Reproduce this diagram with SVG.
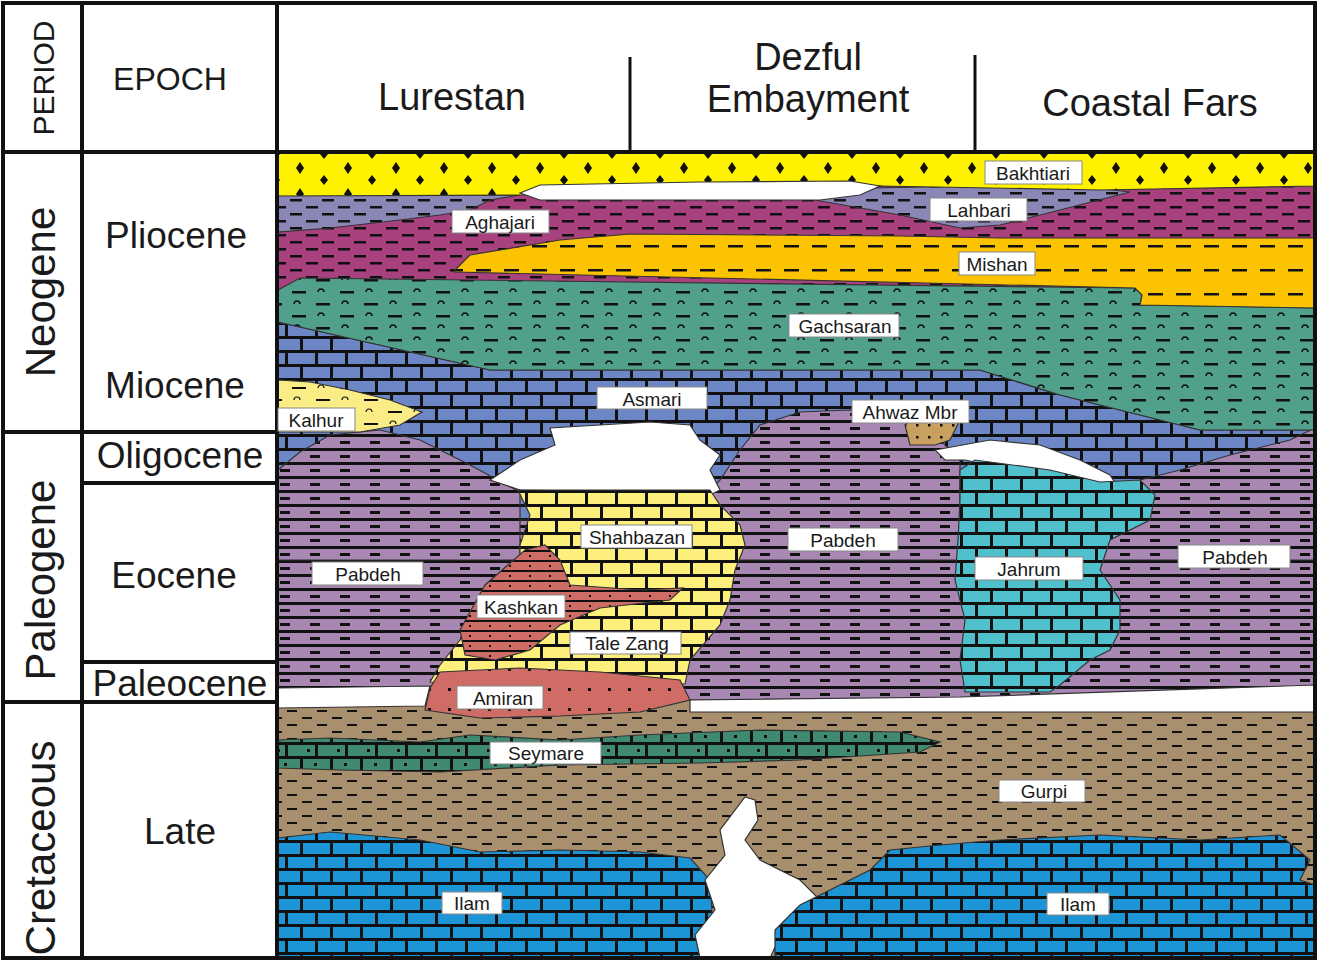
<svg xmlns="http://www.w3.org/2000/svg" width="1318" height="961" viewBox="0 0 1318 961">
<style>
text{font-family:"Liberation Sans",Arial,sans-serif;fill:#1a1a1a}
.lab rect{fill:#fff;stroke:#888;stroke-width:1}
.lab text{font-size:19px;text-anchor:middle}
.hd{font-size:38px;text-anchor:middle}
.ep{font-size:37px;text-anchor:middle}
.edge{stroke:#333;stroke-width:1.2}
</style>
<defs>
<pattern id="bak" width="48" height="26" patternUnits="userSpaceOnUse"><rect width="48" height="26" fill="#fff200"/><path d="M12 6l4 6-4 6-4-6z M36 19l4 5-4 5-4-5z M36 -7l4 5-4 5-4-5z" fill="#111"/></pattern>
<pattern id="lah" width="32" height="14" patternUnits="userSpaceOnUse"><rect width="32" height="14" fill="#8a87b6"/><rect x="2" y="3" width="12" height="2.5" fill="#111"/><rect x="18" y="10" width="12" height="2.5" fill="#111"/></pattern>
<pattern id="agh" width="32" height="14" patternUnits="userSpaceOnUse"><rect width="32" height="14" fill="#a8427e"/><rect x="2" y="3" width="12" height="2.5" fill="#111"/><rect x="18" y="10" width="12" height="2.5" fill="#111"/></pattern>
<pattern id="mis" width="28" height="24" patternUnits="userSpaceOnUse"><rect width="28" height="24" fill="#fcc400"/><rect x="0" y="5" width="15" height="2.5" fill="#111"/></pattern>
<pattern id="gac" width="48" height="24" patternUnits="userSpaceOnUse"><rect width="48" height="24" fill="#50a08c"/><rect x="4" y="3" width="14" height="2.5" fill="#111"/><rect x="28" y="15" width="14" height="2.5" fill="#111"/><path d="M30 4a3 3 0 0 1 6 0 M6 16a3 3 0 0 1 6 0" stroke="#111" stroke-width="1.5" fill="none"/></pattern>
<pattern id="kal" width="48" height="24" patternUnits="userSpaceOnUse"><rect width="48" height="24" fill="#fbed86"/><rect x="4" y="3" width="14" height="2" fill="#111"/><rect x="28" y="15" width="14" height="2" fill="#111"/><path d="M30 4a3 3 0 0 1 6 0 M6 16a3 3 0 0 1 6 0" stroke="#111" stroke-width="1.2" fill="none"/></pattern>
<pattern id="asm" width="30" height="28" patternUnits="userSpaceOnUse"><rect width="30" height="28" fill="#6d86c6"/><rect y="0" width="30" height="3" fill="#111"/><rect y="14" width="30" height="3" fill="#111"/><rect x="0" y="0" width="3" height="14" fill="#111"/><rect x="15" y="14" width="3" height="14" fill="#111"/></pattern>
<pattern id="sha" width="30" height="28" patternUnits="userSpaceOnUse"><rect width="30" height="28" fill="#fcef7c"/><rect y="0" width="30" height="3" fill="#111"/><rect y="14" width="30" height="3" fill="#111"/><rect x="0" y="0" width="3" height="14" fill="#111"/><rect x="15" y="14" width="3" height="14" fill="#111"/></pattern>
<pattern id="jah" width="30" height="28" patternUnits="userSpaceOnUse"><rect width="30" height="28" fill="#4fc0cc"/><rect y="0" width="30" height="3" fill="#111"/><rect y="14" width="30" height="3" fill="#111"/><rect x="0" y="0" width="3" height="14" fill="#111"/><rect x="15" y="14" width="3" height="14" fill="#111"/></pattern>
<pattern id="ila" width="30" height="28" patternUnits="userSpaceOnUse"><rect width="30" height="28" fill="#1d94d6"/><rect y="0" width="30" height="3" fill="#111"/><rect y="14" width="30" height="3" fill="#111"/><rect x="0" y="0" width="3" height="14" fill="#111"/><rect x="15" y="14" width="3" height="14" fill="#111"/></pattern>
<pattern id="sey" width="30" height="28" patternUnits="userSpaceOnUse"><rect width="30" height="28" fill="#3f8a70"/><rect y="0" width="30" height="3" fill="#111"/><rect y="14" width="30" height="3" fill="#111"/><rect x="0" y="0" width="3" height="14" fill="#111"/><rect x="15" y="14" width="3" height="14" fill="#111"/><rect x="14" y="7" width="3" height="3" fill="#111"/><rect x="7" y="21" width="3" height="3" fill="#111"/></pattern>
<pattern id="pab" width="30" height="14" patternUnits="userSpaceOnUse"><rect width="30" height="14" fill="#a888b2"/><rect y="0" width="30" height="3" fill="#111"/><rect x="10" y="7" width="10" height="3" fill="#111"/></pattern>
<pattern id="gur" width="30" height="14" patternUnits="userSpaceOnUse"><rect width="30" height="14" fill="#a88f6e"/><rect x="2" y="3" width="10" height="2" fill="#111"/><rect x="17" y="10" width="10" height="2" fill="#111"/></pattern>
<pattern id="ami" width="20" height="20" patternUnits="userSpaceOnUse"><rect width="20" height="20" fill="#cf6c66"/><rect x="8" y="8" width="3" height="3" fill="#111"/></pattern>
<pattern id="kas" width="20" height="10" patternUnits="userSpaceOnUse"><rect width="20" height="10" fill="#cf6c66"/><rect y="0" width="20" height="2" fill="#111"/><rect x="9" y="5" width="2" height="2" fill="#111"/></pattern>
<pattern id="ahw" width="12" height="12" patternUnits="userSpaceOnUse"><rect width="12" height="12" fill="#c8a060"/><rect x="4" y="4" width="2.5" height="2.5" fill="#111"/></pattern>
</defs>
<rect width="1318" height="961" fill="#fff"/>
<g id="strata" class="edge">
<rect x="278" y="700" width="1037" height="258" fill="url(#gur)"/>
<rect x="278" y="420" width="1037" height="280" fill="url(#pab)"/>
<rect x="278" y="180" width="1037" height="130" fill="url(#agh)"/>
<polygon fill="url(#asm)" points="278,322 490,370 980,370 1060,395 1200,430 1315,430 1315,520 278,520"/>
<polygon fill="url(#pab)" points="278,470 300,452 330,435 380,430 420,440 470,465 520,492 520,560 278,560"/>
<polygon fill="url(#pab)" points="700,500 720,480 740,450 760,425 800,412 850,410 910,420 940,440 960,460 960,560 700,560"/>
<polygon fill="url(#pab)" points="1140,480 1180,470 1230,455 1290,440 1315,428 1315,560 1090,560 1100,500"/>
<polygon fill="#fff" points="490,480 520,460 555,445 550,428 600,425 650,422 690,425 700,440 720,455 710,470 720,490 700,500 620,492 520,490"/>
<polygon fill="#fff" points="935,450 990,440 1040,445 1080,460 1110,475 1120,490 1090,495 1060,500 1040,505 1020,485 990,465 965,460 945,460"/>
<polygon fill="url(#sha)" points="430,682 440,665 460,640 470,620 520,585 520,545 530,515 518,490 710,490 720,505 740,525 745,545 735,570 730,600 720,625 690,660 685,684"/>
<polygon fill="url(#kas)" points="460,630 485,585 525,550 545,545 560,560 570,585 640,590 683,588 670,600 600,608 560,625 530,650 495,660 465,655"/>
<polygon fill="url(#jah)" points="960,470 975,460 1050,470 1100,482 1140,480 1155,495 1150,520 1110,540 1100,570 1120,600 1120,630 1110,650 1090,660 1060,685 1050,692 965,692 960,660 965,620 955,580 958,540 960,500"/>
<polygon fill="#fff" points="278,688 430,686 425,706 278,708"/>
<polygon fill="#fff" points="690,700 960,697 1315,685 1315,712 690,712"/>
<polygon fill="url(#ami)" points="430,688 440,672 520,668 600,672 680,680 690,700 640,712 560,716 480,718 425,710"/>
<polygon fill="url(#sey)" points="278,740 330,738 420,742 470,735 560,740 640,735 760,730 900,732 940,742 920,752 800,760 700,763 560,765 440,772 340,770 278,768"/>
<polygon fill="url(#ila)" points="278,838 330,832 420,840 480,852 560,850 640,852 690,858 710,880 715,958 278,958"/>
<polygon fill="#fff" points="745,797 755,800 758,820 745,840 760,860 800,880 820,900 790,915 770,958 700,958 695,935 715,910 705,880 725,855 720,830"/>
<polygon fill="url(#ila)" points="775,930 800,905 870,870 890,850 940,845 1000,840 1100,835 1200,840 1280,835 1310,860 1300,880 1315,885 1315,958 775,958"/>
<polygon fill="url(#gac)" points="278,290 300,278 1135,288 1142,295 1140,305 1315,308 1315,430 1200,430 1060,395 980,370 490,370 278,322"/>
<polygon fill="url(#kal)" points="278,380 310,382 350,390 390,400 422,412 400,425 360,432 320,432 278,432"/>
<polygon fill="url(#ahw)" points="905,425 915,415 940,410 968,403 960,420 950,440 935,445 910,445"/>
<polygon fill="url(#mis)" points="455,270 470,255 560,240 630,234 900,236 1000,238 1150,238 1315,238 1315,308 1140,305 1142,295 1135,288 455,272"/>
<polygon fill="url(#lah)" points="278,195 520,195 490,200 470,210 440,215 400,220 330,228 278,232"/>
<polygon fill="url(#lah)" points="815,200 870,188 1060,184 1130,192 1060,210 1000,225 960,228 900,215"/>
<polygon fill="url(#bak)" points="278,152 1315,152 1315,186 1100,190 880,186 520,195 278,196"/>
<polygon fill="#fff" points="520,193 540,185 700,182 850,181 880,186 860,195 820,200 540,200"/>
</g>
<g id="grid" fill="none" stroke="#111" stroke-width="4">
<rect x="3" y="3" width="1312" height="955"/>
<line x1="82" y1="3" x2="82" y2="958"/>
<line x1="277" y1="3" x2="277" y2="958"/>
<line x1="3" y1="152" x2="1315" y2="152"/>
<line x1="3" y1="432" x2="277" y2="432"/>
<line x1="3" y1="702" x2="277" y2="702"/>
<line x1="82" y1="483" x2="277" y2="483"/>
<line x1="82" y1="662" x2="277" y2="662"/>
<line x1="630" y1="57" x2="630" y2="150" stroke-width="3"/>
<line x1="975" y1="55" x2="975" y2="150" stroke-width="3"/>
</g>
<g id="headers">
<text x="0" y="0" font-size="30" text-anchor="middle" transform="translate(54,78) rotate(-90)">PERIOD</text>
<text x="170" y="90" font-size="32" text-anchor="middle">EPOCH</text>
<text class="hd" x="452" y="110">Lurestan</text>
<text class="hd" x="808" y="70">Dezful</text>
<text class="hd" x="808" y="112">Embayment</text>
<text class="hd" x="1150" y="116">Coastal Fars</text>
<text font-size="42" text-anchor="middle" transform="translate(55,292) rotate(-90)">Neogene</text>
<text font-size="42" text-anchor="middle" transform="translate(55,580) rotate(-90)">Paleogene</text>
<text font-size="42" text-anchor="middle" transform="translate(55,848) rotate(-90)">Cretaceous</text>
<text class="ep" x="176" y="248">Pliocene</text>
<text class="ep" x="175" y="398">Miocene</text>
<text class="ep" x="180" y="468">Oligocene</text>
<text class="ep" x="174" y="588">Eocene</text>
<text class="ep" x="180" y="696">Paleocene</text>
<text class="ep" x="180" y="844">Late</text>
</g>
<g id="labels" class="lab">
<g><rect x="985" y="161" width="97" height="23"/><text x="1033" y="180">Bakhtiari</text></g>
<g><rect x="930" y="198" width="97" height="23"/><text x="979" y="217">Lahbari</text></g>
<g><rect x="452" y="210" width="97" height="23"/><text x="500" y="229">Aghajari</text></g>
<g><rect x="959" y="252" width="76" height="23"/><text x="997" y="271">Mishan</text></g>
<g><rect x="789" y="314" width="110" height="23"/><text x="845" y="333">Gachsaran</text></g>
<g><rect x="597" y="387" width="110" height="22"/><text x="652" y="406">Asmari</text></g>
<g><rect x="278" y="408" width="77" height="23"/><text x="316" y="427">Kalhur</text></g>
<g><rect x="852" y="400" width="117" height="23"/><text x="910" y="419">Ahwaz Mbr</text></g>
<g><rect x="581" y="525" width="111" height="23"/><text x="637" y="544">Shahbazan</text></g>
<g><rect x="788" y="528" width="110" height="23"/><text x="843" y="547">Pabdeh</text></g>
<g><rect x="975" y="557" width="108" height="23"/><text x="1029" y="576">Jahrum</text></g>
<g><rect x="1178" y="545" width="112" height="23"/><text x="1235" y="564">Pabdeh</text></g>
<g><rect x="312" y="562" width="111" height="23"/><text x="368" y="581">Pabdeh</text></g>
<g><rect x="477" y="595" width="88" height="23"/><text x="521" y="614">Kashkan</text></g>
<g><rect x="570" y="632" width="111" height="22"/><text x="627" y="650">Tale Zang</text></g>
<g><rect x="457" y="686" width="86" height="23"/><text x="503" y="705">Amiran</text></g>
<g><rect x="490" y="742" width="111" height="22"/><text x="546" y="760">Seymare</text></g>
<g><rect x="999" y="780" width="86" height="22"/><text x="1044" y="798">Gurpi</text></g>
<g><rect x="442" y="892" width="60" height="22"/><text x="472" y="910">Ilam</text></g>
<g><rect x="1047" y="893" width="62" height="22"/><text x="1078" y="911">Ilam</text></g>
</g>
</svg>
